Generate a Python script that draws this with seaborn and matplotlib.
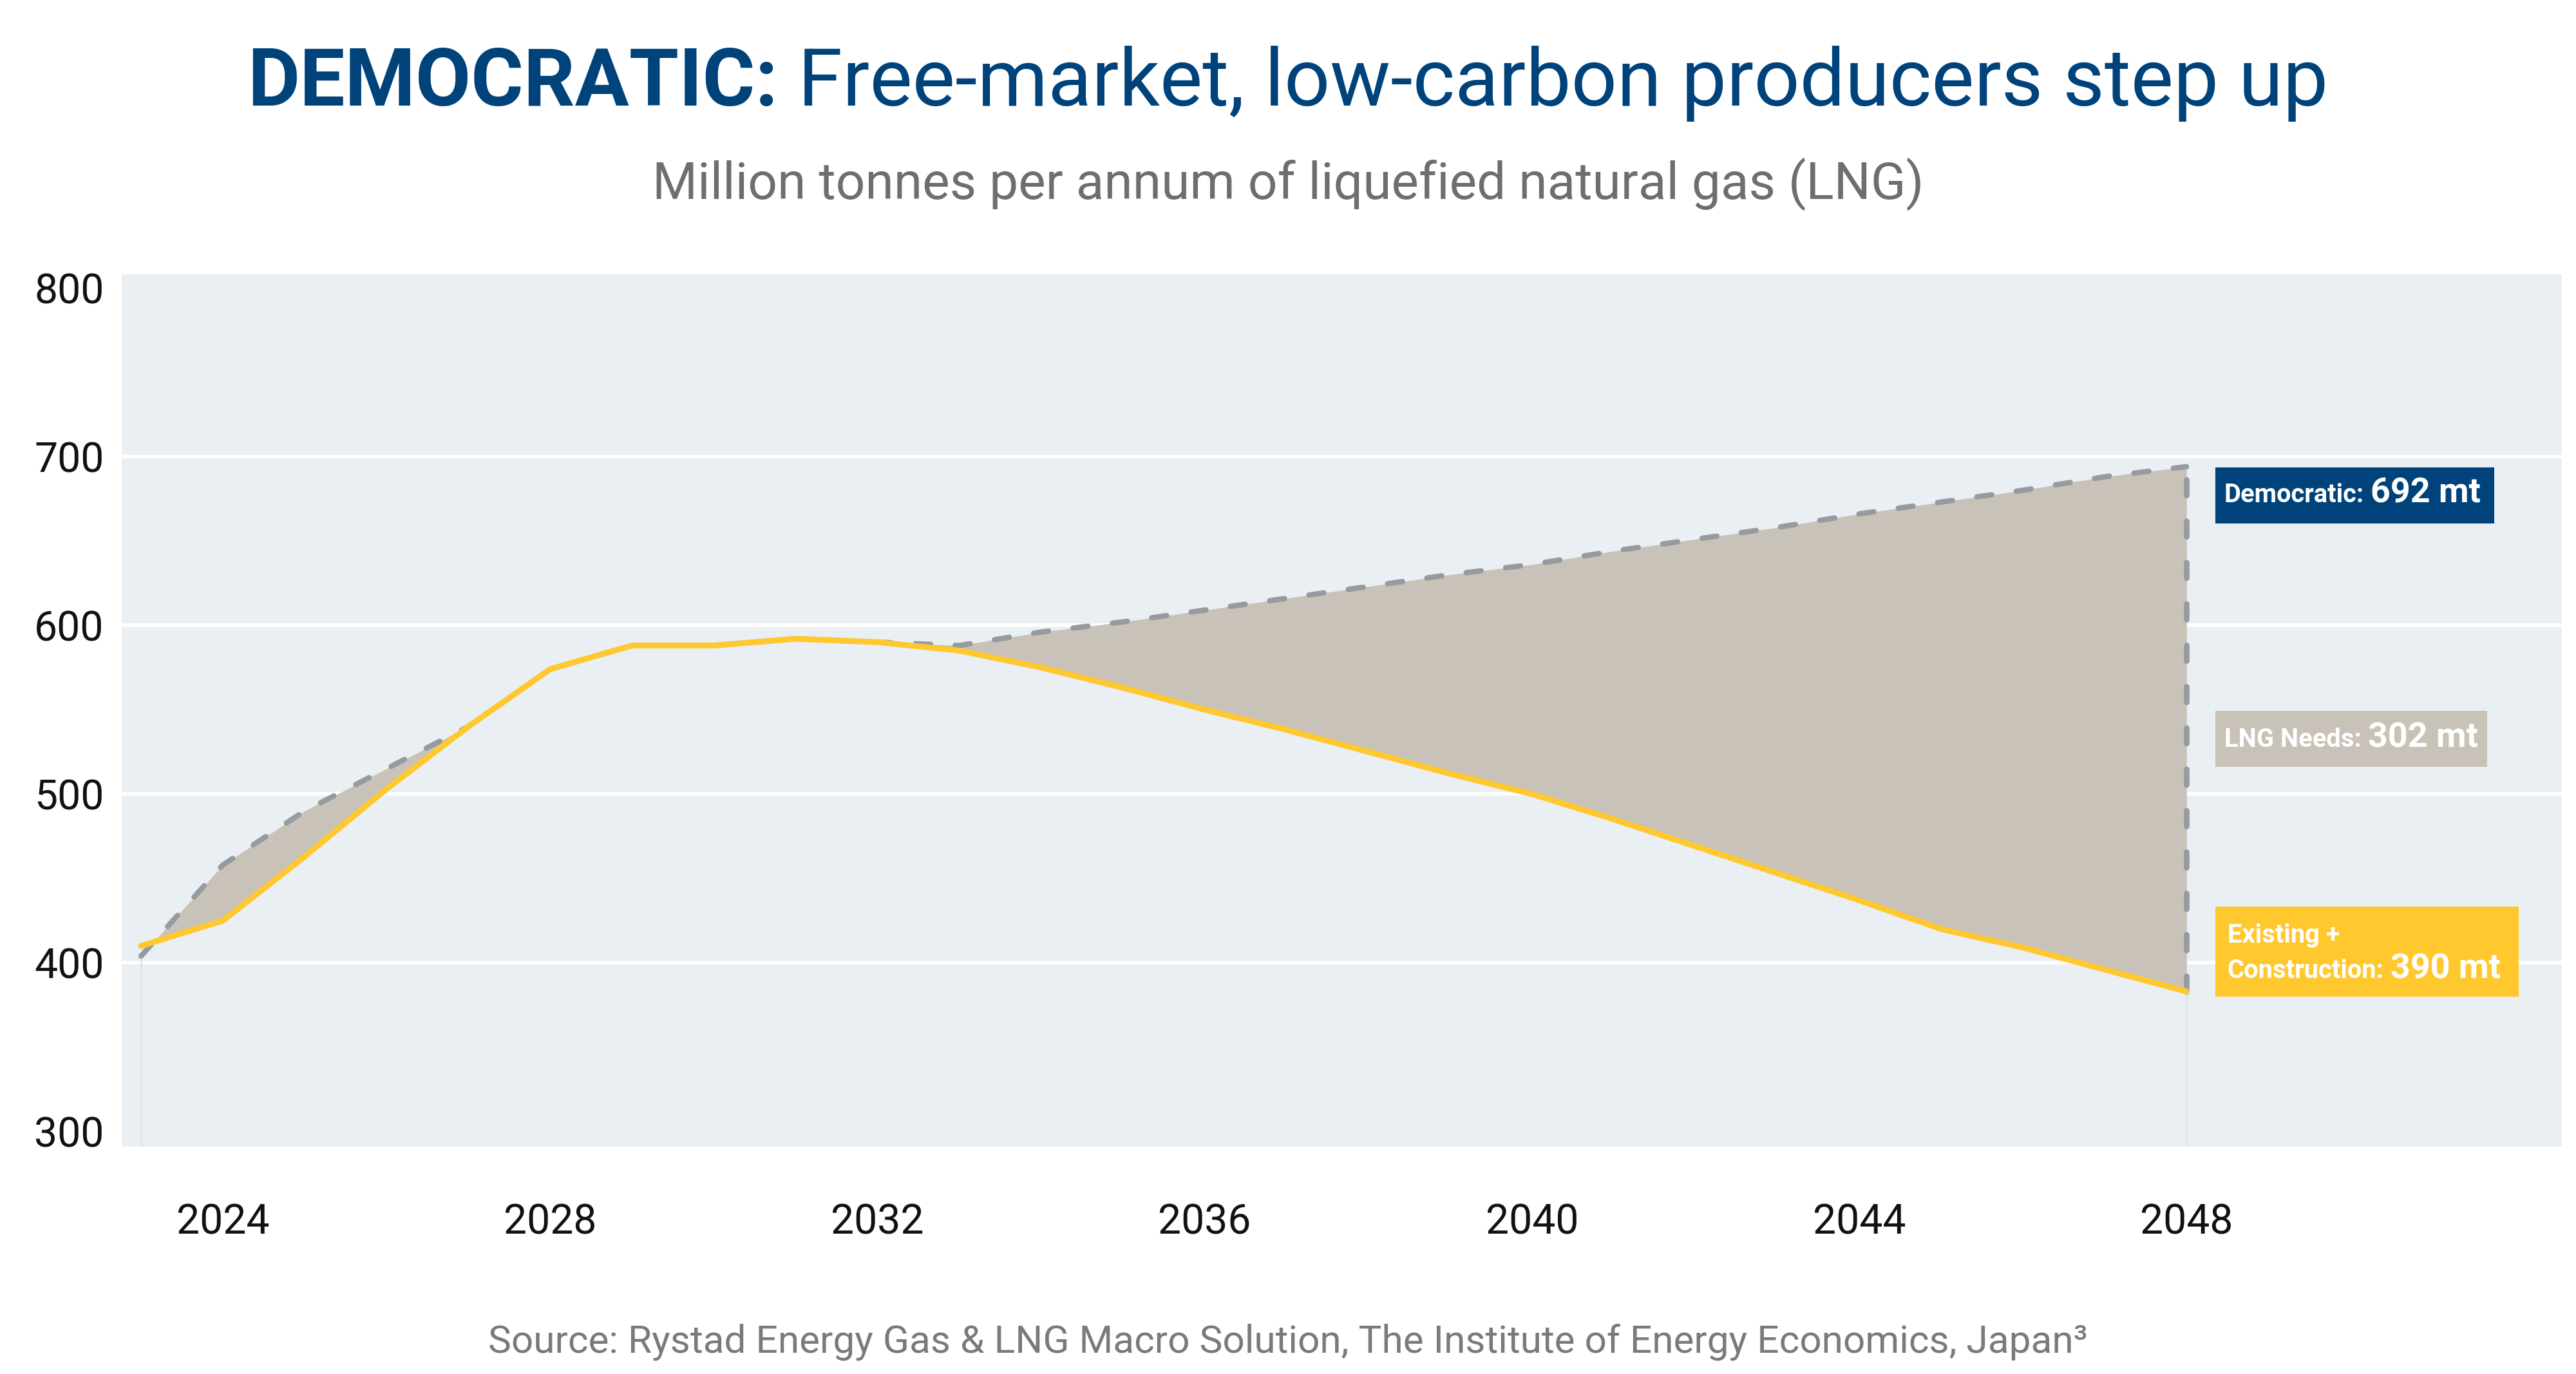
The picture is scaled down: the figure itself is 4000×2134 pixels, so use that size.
import pandas as pd
import seaborn as sns
import matplotlib.pyplot as plt
from matplotlib.patches import Rectangle

# ===== data =====
years = list(range(2023, 2049))
existing = [410, 425, 463, 503, 540, 574, 588, 588, 592, 590, 585, 575, 563,
            550, 538, 525, 512, 500, 485, 469, 453, 437, 420, 409, 396, 383]
democratic = [404, 458, 490, 515, 540, 574, 588, 588, 592, 590, 588, 596, 602,
              609, 616, 623, 630, 636, 644, 651, 658, 666, 673, 680, 688, 694]

x_ticks = [2024, 2028, 2032, 2036, 2040, 2044, 2048]
y_ticks = [300, 400, 500, 600, 700, 800]
grid_vals = [400, 500, 600, 700]

title_bold = "DEMOCRATIC:"
title_rest = "Free-market, low-carbon producers step up"
subtitle = "Million tonnes per annum of liquefied natural gas (LNG)"
source = "Source: Rystad Energy Gas & LNG Macro Solution, The Institute of Energy Economics, Japan\u00b3"

dem_label, dem_value = "Democratic:", "692 mt"
needs_label, needs_value = "LNG Needs:", "302 mt"
exist_top, exist_label, exist_value = "Existing +", "Construction:", "390 mt"

# ===== colours =====
NAVY = "#00427A"
YELLOW = "#FFC82E"
SAND = "#C9C2B8"
DASH = "#969B9F"
BG = "#E9EFF2"

sns.set_style("white", rc={"axes.facecolor": BG})
plt.rcParams['font.family'] = ['Roboto', 'DejaVu Sans']

df = pd.DataFrame({"year": years, "existing": existing, "democratic": democratic})

fig = plt.figure(figsize=(16, 8.536), dpi=250)
ax = fig.add_axes([0.0473, 0.1654, 0.9473, 0.635])
ax.set_facecolor(BG)

# ===== grid, fill, lines =====
for v in grid_vals:
    ax.axhline(v, color="white", lw=1.6, zorder=1)

ax.fill_between(df["year"], df["existing"], df["democratic"],
                where=df["democratic"] >= df["existing"], interpolate=True,
                color=SAND, lw=0, zorder=2)

ax.vlines([years[0]], 291, democratic[0], colors="#DCE2E6", lw=0.8, zorder=1.5)
ax.vlines([years[-1]], 291, existing[-1], colors="#DCE2E6", lw=0.8, zorder=1.5)

sns.lineplot(data=df, x="year", y="democratic", ax=ax, color=DASH, lw=2.4, zorder=3)
dash_line = ax.get_lines()[-1]
dash_line.set_dashes((2.8, 4.6))
dash_line.set_dash_capstyle("round")

vl = ax.vlines(years[-1], existing[-1], democratic[-1], colors=DASH, lw=2.5,
               linestyles=(0, (2.8, 4.6)), zorder=3)
vl.set_capstyle("round")

sns.lineplot(data=df, x="year", y="existing", ax=ax, color=YELLOW, lw=2.6, zorder=4,
             solid_capstyle="round")

# ===== axes =====
ax.set_xlim(2022.765, 2052.59)
ax.set_ylim(291, 808)
ax.set_xticks(x_ticks)
ax.set_yticks(y_ticks)
ax.grid(False)
ax.set_xlabel("")
ax.set_ylabel("")
ax.tick_params(axis="both", length=0, labelsize=18.5, colors="#111111")
ax.tick_params(axis="y", pad=8)
ax.tick_params(axis="x", pad=25)
sns.despine(ax=ax, left=True, bottom=True)

# ===== end labels =====
def end_box(x0, y0, w, h, color):
    ax.add_patch(Rectangle((x0, y0), w, h, color=color, lw=0, zorder=5, clip_on=False))

def label_pair(x, y, small, big):
    t = ax.text(x, y, small, fontsize=11.5, fontweight="semibold", color="white",
                va="center", ha="left", zorder=6)
    ax.annotate(big, xy=(1, 0), xycoords=t, xytext=(3, -1), textcoords="offset points",
                fontsize=15.5, fontweight="bold", color="white", va="bottom", ha="left",
                zorder=6)

end_box(2048.35, 660.3, 3.41, 33.2, NAVY)
label_pair(2048.46, 677, dem_label, dem_value)

end_box(2048.35, 516.0, 3.32, 33.2, SAND)
label_pair(2048.46, 532, needs_label, needs_value)

end_box(2048.35, 379.8, 3.71, 53.4, YELLOW)
ax.text(2048.5, 416, exist_top, fontsize=11.5, fontweight="semibold", color="white",
        va="center", ha="left", zorder=6)
label_pair(2048.5, 395, exist_label, exist_value)

# ===== title block =====
r = fig.canvas.get_renderer()
t1 = fig.text(0, 0.939, title_bold, fontsize=36, fontweight="bold", color=NAVY,
              va="center", ha="left")
t2 = fig.text(0, 0.939, " " + title_rest, fontsize=36, color=NAVY, va="center", ha="left")
w1 = t1.get_window_extent(r).width
w2 = t2.get_window_extent(r).width
W = fig.bbox.width
start = (W - (w1 + w2)) / 2
t1.set_x(start / W)
t2.set_x((start + w1) / W)

fig.text(0.5, 0.866, subtitle, fontsize=23.1, color="#6E6E6E", ha="center", va="center")
fig.text(0.5, 0.0235, source, fontsize=17.4, color="#7A7A7A", ha="center", va="center")

fig.savefig("out.png", dpi=250, facecolor="white")
